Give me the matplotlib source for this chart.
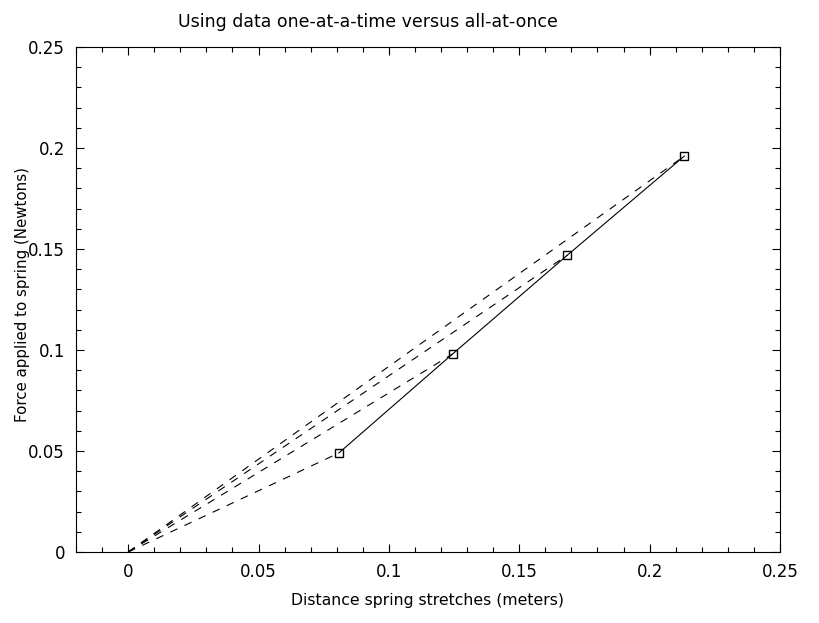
import matplotlib
matplotlib.use("Agg")
import matplotlib.pyplot as plt
from matplotlib.ticker import MultipleLocator, FuncFormatter

# Data
stretch_m = [0.0808, 0.1244, 0.1685, 0.2133]
force_N = [0.049, 0.098, 0.147, 0.196]
origin = (0.0, 0.0)

title = "Using data one-at-a-time versus all-at-once"
xlabel = "Distance spring stretches (meters)"
ylabel = "Force applied to spring (Newtons)"

plt.rcParams['font.family'] = ['DejaVu Sans']

fig = plt.figure(figsize=(8.2, 6.23), dpi=100)
ax = fig.add_axes([76/820, 1-552/623, (780-76)/820, (552-47)/623])

lw = 0.8
# dashed lines from origin to each data point (one-at-a-time)
for xs, ys in zip(stretch_m, force_N):
    ax.plot([origin[0], xs], [origin[1], ys], color='black', lw=lw,
            linestyle=(0, (7, 7)))
# solid line through all points with square markers
ax.plot(stretch_m, force_N, color='black', lw=lw, marker='s', markersize=6,
        markerfacecolor='none', markeredgecolor='black', markeredgewidth=1.0)

ax.set_xlim(-0.02, 0.25)
ax.set_ylim(0, 0.25)
ax.xaxis.set_major_locator(MultipleLocator(0.05))
ax.xaxis.set_minor_locator(MultipleLocator(0.01))
ax.yaxis.set_major_locator(MultipleLocator(0.05))
ax.yaxis.set_minor_locator(MultipleLocator(0.01))

def fmt(v, pos):
    if abs(v) < 1e-9:
        return "0"
    s = ("%.2f" % v).rstrip('0').rstrip('.')
    return s
ax.xaxis.set_major_formatter(FuncFormatter(fmt))
ax.yaxis.set_major_formatter(FuncFormatter(fmt))

ax.tick_params(which='both', direction='in', top=True, right=True, width=0.8)
ax.tick_params(which='major', length=6, labelsize=12, pad=8)
ax.tick_params(which='minor', length=3.5)
for sp in ax.spines.values():
    sp.set_linewidth(0.8)

fig.text(368/820, 1-22/623, title, ha='center', va='center', fontsize=12.5)
fig.text(428/820, 1-601/623, xlabel, ha='center', va='center', fontsize=11.3)
fig.text(23/820, 1-295/623, ylabel, ha='center', va='center', fontsize=10.8,
         rotation=90)

fig.savefig("out.png", dpi=100)
